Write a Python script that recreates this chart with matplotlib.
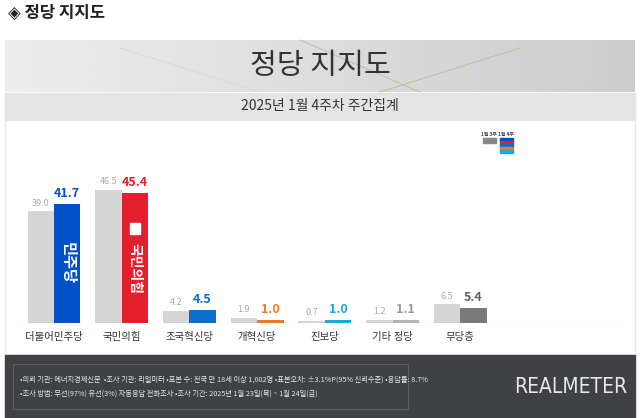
import numpy as np
import matplotlib
matplotlib.use("Agg")
import matplotlib.pyplot as plt
from matplotlib.patches import Rectangle
from matplotlib import font_manager

names = {f.name for f in font_manager.fontManager.ttflist}
cjk = [n for n in ["Noto Sans CJK KR", "Noto Sans CJK JP", "Noto Sans CJK SC"] if n in names]
plt.rcParams["font.family"] = cjk + ["DejaVu Sans"]

parties = ["더불어민주당", "국민의힘", "조국혁신당", "개혁신당", "진보당", "기타 정당", "무당층"]
prev_week = [39.0, 46.5, 4.2, 1.9, 0.7, 1.2, 6.5]
this_week = [41.7, 45.4, 4.5, 1.0, 1.0, 1.1, 5.4]
colors = ["#0050c8", "#e31f2d", "#0a6ccc", "#f07820", "#1aa8e0", "#b4b4b4", "#7a7a7a"]
label_colors = ["#0050c8", "#e31f2d", "#0a6ccc", "#f07820", "#1aa8e0", "#9a9a9a", "#606060"]

W, H = 640, 418
fig = plt.figure(figsize=(6.4, 4.18), dpi=100)
bg = fig.add_axes([0, 0, 1, 1])
bg.set_xlim(0, W)
bg.set_ylim(H, 0)
bg.axis("off")

# page title
bg.text(8, 13, "◈ 정당 지지도", fontsize=12, fontweight="bold", va="center", color="#222")
# header banner
grad = np.linspace(0.93, 0.80, 256).reshape(1, -1)
bg.imshow(np.vstack([grad] * 2), extent=(5, 635, 92, 40), cmap="gray", vmin=0, vmax=1, aspect="auto")
bg.plot([300, 420], [40, 92], color="#c8b890", lw=0.6)
bg.plot([380, 520], [92, 48], color="#c8b890", lw=0.6)
bg.plot([120, 260], [48, 92], color="#d8d8d8", lw=0.6)
bg.text(320, 66, "정당 지지도", fontsize=21, ha="center", va="center", color="#333")
bg.add_patch(Rectangle((5, 93), 630, 27, color="#e4e4e4"))
bg.text(320, 106, "2025년 1월 4주차 주간집계", fontsize=10, ha="center", va="center", color="#333")
bg.add_patch(Rectangle((5, 120), 630, 235, facecolor="white", edgecolor="#e8e8e8"))
# footer
bg.add_patch(Rectangle((5, 355), 630, 63, color="#3f4144"))
bg.add_patch(Rectangle((13, 364), 395, 45, facecolor="none", edgecolor="#5c5e61", lw=0.8))
bg.text(20, 380, "•의뢰 기관: 에너지경제신문  •조사 기관: 리얼미터 •표본 수: 전국 만 18세 이상 1,002명 •표본오차: ±3.1%P(95% 신뢰수준) •응답률: 8.7%",
        fontsize=5.2, color="#e8e8e8", va="center")
bg.text(20, 394, "•조사 방법: 무선(97%) 유선(3%) 자동응답 전화조사 •조사 기간: 2025년 1월 23일(목) ~ 1월 24일(금)",
        fontsize=5.2, color="#e8e8e8", va="center")
bg.text(571, 387, "REALMETER", fontsize=15, color="#e8e8e8", ha="center", va="center",
        fontfamily="DejaVu Sans", fontweight="light", fontstretch="condensed")

# legend
bg.text(489, 136, "1월 3주", fontsize=3.5, color="#444", ha="center", fontweight="bold")
bg.add_patch(Rectangle((483, 138), 13, 5, color="#888"))
bg.text(506, 136, "1월 4주", fontsize=3.5, color="#444", ha="center", fontweight="bold")
for k, c in enumerate(["#0050c8", "#e31f2d", "#0a6ccc", "#f07820", "#1aa8e0"]):
    bg.add_patch(Rectangle((500, 138 + 3 * k), 13, 3, color=c))

# bar chart
ax = fig.add_axes([0, 1 - 323 / H, 1, (323 - 130) / H])
ax.set_xlim(-54 / 67.7, (W - 54) / 67.7)
ax.set_ylim(0, 67.5)
ax.axis("off")
x = np.arange(len(parties))
bw = 0.39
ax.bar(x - bw / 2, prev_week, bw, color="#d6d6d6")
ax.bar(x + bw / 2, this_week, bw, color=colors)
ax.axhline(0, xmin=0.02, xmax=0.98, color="#999", lw=0.8)
for i in x:
    ax.text(i - bw / 2, prev_week[i] + 1.3, f"{prev_week[i]:.1f}", ha="center", va="bottom", fontsize=6.5, color="#aaa")
    ax.text(i + bw / 2, this_week[i] + 1.3, f"{this_week[i]:.1f}", ha="center", va="bottom", fontsize=9,
            fontweight="bold", color=label_colors[i])
    ax.text(i, -3.2, parties[i], ha="center", va="top", fontsize=7.5, color="#333")
ax.text(0 + bw / 2, 21, "민주당", rotation=-90, ha="center", va="center", fontsize=11, color="white", fontweight="bold")
ax.text(1 + bw / 2, 19, "국민의힘", rotation=-90, ha="center", va="center", fontsize=10, color="white", fontweight="bold")
ax.add_patch(Rectangle((1 + bw / 2 - 0.07, 31), 0.14, 4, color="white"))

fig.savefig("out.png", dpi=100)
